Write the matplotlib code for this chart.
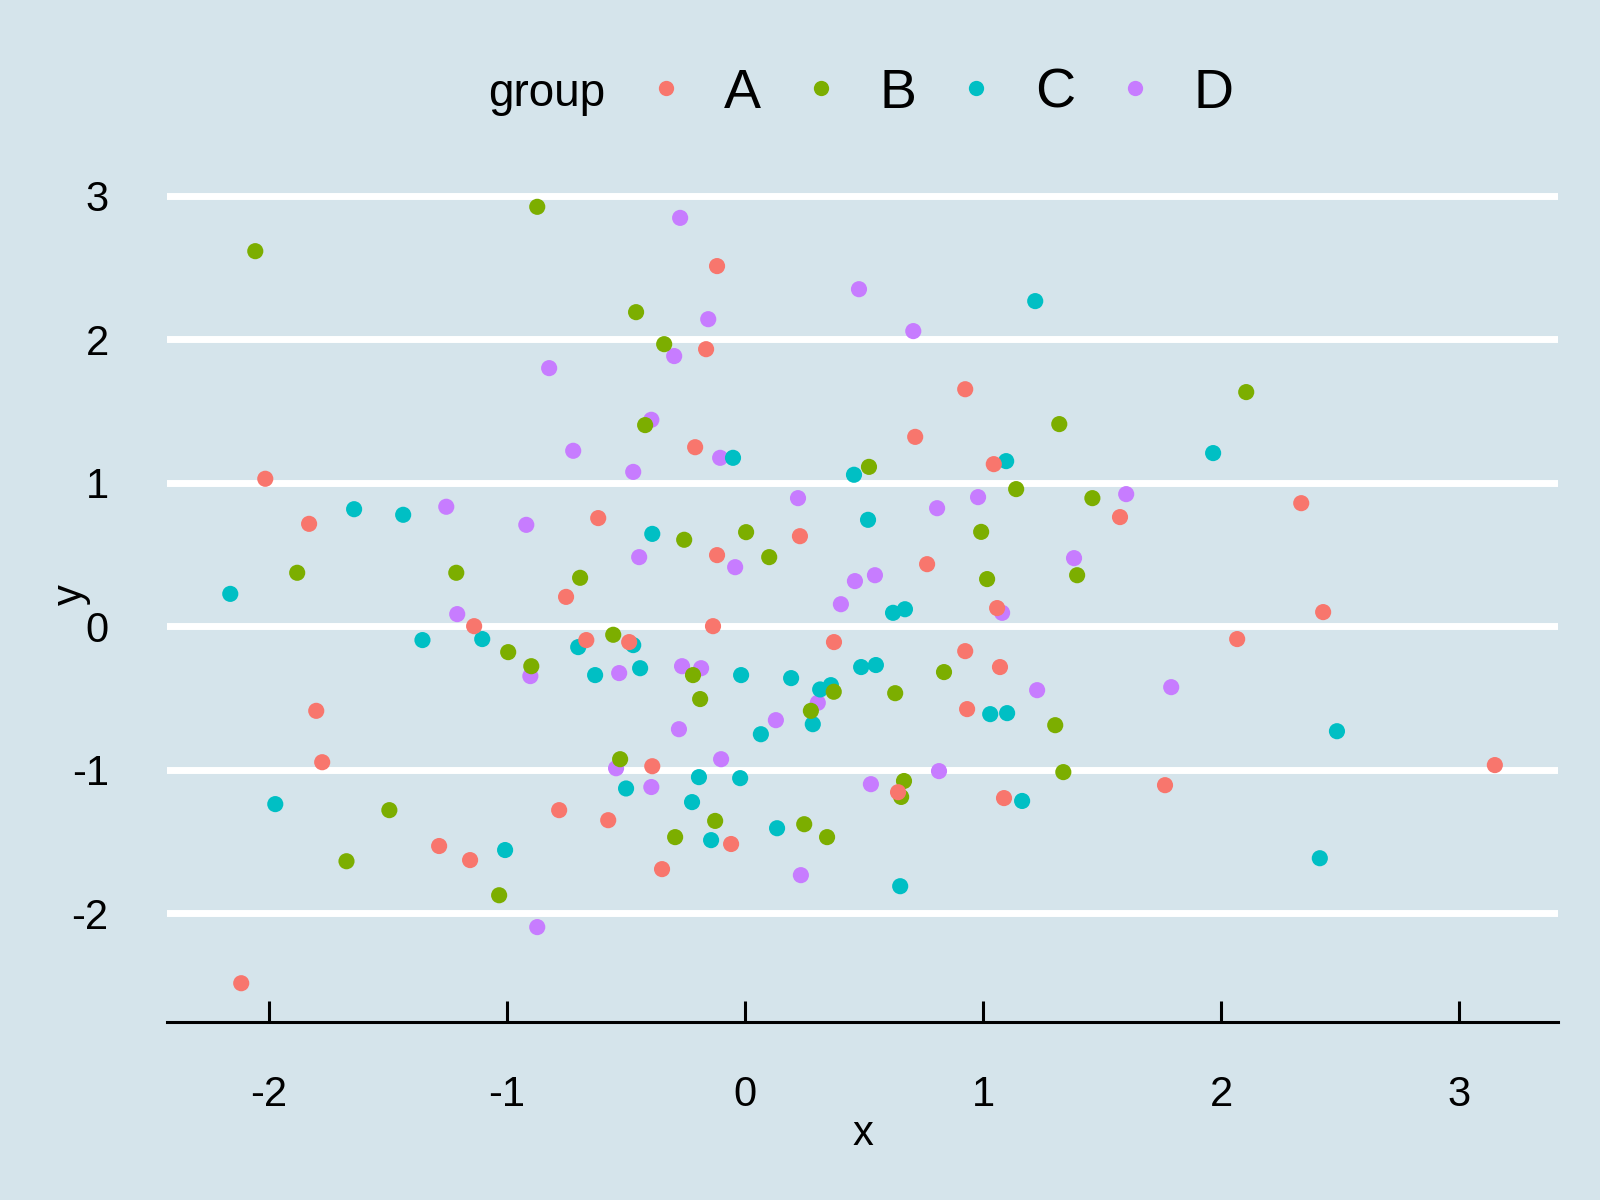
# Scatter of y against x by group, economist-like styling

import numpy as np
import matplotlib
matplotlib.use('Agg')
import matplotlib.pyplot as plt
from matplotlib.lines import Line2D

plt.rcParams['font.family'] = ['Liberation Sans', 'DejaVu Sans']
plt.rcParams['axes.unicode_minus'] = False

groups = ['A', 'B', 'C', 'D']
colors = ['#F8766D', '#7CAE00', '#00BFC4', '#C77CFF']

a_x = [-2.014, -1.830, -0.616, -0.751, -0.117, -0.163, 0.925, 0.715, -0.209, 1.045,
       0.231, -0.117, 0.765, 2.336, 1.575, -1.137, -0.666, -1.800, -1.775, -0.780,
       -0.574, -1.284, -1.154, -2.115, 1.059, -0.134, -0.486, 0.374, 0.925, 1.071,
       0.933, -0.389, 0.643, 1.088, -0.058, -0.348, 2.428, 2.067, 1.764, 3.149]
a_y = [1.029, 0.715, 0.755, 0.206, 2.511, 1.932, 1.653, 1.321, 1.249, 1.131,
       0.629, 0.497, 0.434, 0.859, 0.762, 0.002, -0.095, -0.588, -0.946, -1.280,
       -1.350, -1.530, -1.628, -2.486, 0.128, 0.002, -0.109, -0.109, -0.172, -0.283,
       -0.576, -0.974, -1.155, -1.196, -1.516, -1.691, 0.100, -0.088, -1.106, -0.966]

b_x = [-2.056, -0.872, -1.880, -1.212, -0.692, -0.457, -0.339, -0.419, 1.320, 0.521,
       1.139, -0.255, 0.005, 0.992, 0.102, 1.017, 1.395, 2.105, 1.459, -0.994,
       -0.897, -0.553, -0.524, -1.493, -1.673, -1.032, -0.218, -0.188, 0.836, 0.373,
       0.277, 0.631, 1.303, 0.668, 0.656, 1.337, -0.125, -0.293, 0.249, 0.345]
b_y = [2.615, 2.924, 0.374, 0.374, 0.339, 2.190, 1.967, 1.403, 1.410, 1.112,
       0.957, 0.604, 0.657, 0.659, 0.483, 0.330, 0.357, 1.633, 0.894, -0.179,
       -0.277, -0.058, -0.925, -1.280, -1.636, -1.873, -0.339, -0.506, -0.318, -0.455,
       -0.588, -0.465, -0.688, -1.077, -1.188, -1.015, -1.355, -1.468, -1.378, -1.468]

c_x = [-1.641, -1.435, -2.161, 1.219, -0.050, 0.458, 1.097, -0.389, 0.517, 1.966,
       -1.354, -1.103, -0.700, -0.629, -0.499, -1.972, -1.007, 0.622, 0.672, -0.469,
       -0.440, -0.016, 0.194, 0.488, 0.550, 0.316, 0.361, 0.285, 1.030, 1.101,
       0.067, -0.193, -0.020, -0.222, 1.164, -0.142, 0.135, 0.652, 2.486, 2.414]
c_y = [0.817, 0.778, 0.227, 2.267, 1.175, 1.057, 1.152, 0.645, 0.743, 1.208,
       -0.095, -0.088, -0.144, -0.339, -1.129, -1.238, -1.558, 0.095, 0.120, -0.130,
       -0.291, -0.339, -0.360, -0.283, -0.269, -0.439, -0.409, -0.681, -0.611, -0.604,
       -0.751, -1.050, -1.057, -1.224, -1.216, -1.489, -1.406, -1.810, -0.730, -1.615]

d_x = [-0.822, -0.721, -1.254, -0.918, -0.272, 0.479, -0.154, 0.707, -0.297, -0.393,
       -0.104, -0.469, 0.223, 0.807, 0.979, -0.444, -0.041, 0.462, 0.546, 1.382,
       0.403, 1.601, -1.208, -0.901, -0.528, -0.541, -0.872, 1.080, -0.264, -0.184,
       0.306, 1.227, -0.277, 0.130, -0.100, -0.393, 0.529, 0.815, 0.235, 1.790]
d_y = [1.800, 1.224, 0.834, 0.708, 2.847, 2.350, 2.141, 2.058, 1.884, 1.440,
       1.175, 1.077, 0.894, 0.824, 0.901, 0.483, 0.413, 0.316, 0.357, 0.476,
       0.155, 0.922, 0.086, -0.346, -0.325, -0.988, -2.095, 0.095, -0.277, -0.291,
       -0.532, -0.444, -0.716, -0.653, -0.925, -1.119, -1.099, -1.008, -1.733, -0.423]

xs = [a_x, b_x, c_x, d_x]
ys = [a_y, b_y, c_y, d_y]

bg = '#D5E4EB'
fig = plt.figure(figsize=(16, 12), dpi=100, facecolor=bg)
ax = fig.add_axes([0.1044, 0.1483, 0.8694, 0.7117])
ax.set_facecolor(bg)

# draw D first so A ends up on top
for i in [3, 2, 1, 0]:
    ax.scatter(xs[i], ys[i], s=135, color=colors[i], edgecolors='none', zorder=3)

allx = np.concatenate(xs)
ally = np.concatenate(ys)
dx = (allx.max() - allx.min()) * 0.05
dy = (ally.max() - ally.min()) * 0.05
ax.set_xlim(allx.min() - dx, allx.max() + dx)
ax.set_ylim(ally.min() - dy, ally.max() + dy)

ax.set_xticks([-2, -1, 0, 1, 2, 3])
ax.set_yticks([-2, -1, 0, 1, 2, 3])
ax.grid(axis='y', color='white', linewidth=5)
ax.set_axisbelow(True)

for side in ['top', 'right', 'left']:
    ax.spines[side].set_visible(False)
ax.spines['bottom'].set_linewidth(2.2)
ax.spines['bottom'].set_color('black')

ax.tick_params(axis='x', direction='in', length=15, width=2.2, pad=38,
               labelsize=30, colors='black')
ax.tick_params(axis='y', length=0, pad=42, labelsize=30, colors='black')

ax.set_xlabel('x', fontsize=30)
ax.set_ylabel('y', fontsize=30)
ax.xaxis.set_label_coords(0.5, -0.108)
ax.yaxis.set_label_coords(-0.055, 0.5)

# legend on top: title to the left of the keys
handles = [Line2D([], [], linestyle='none', marker='o', markersize=11,
                  markerfacecolor=c, markeredgecolor='none') for c in colors]
fig.legend(handles, groups, ncol=4, loc='center left',
           bbox_to_anchor=(0.4075, 0.922), frameon=False, fontsize=40,
           handlelength=0.5, handletextpad=0.8, columnspacing=0.83,
           borderpad=0, borderaxespad=0)
fig.text(0.305, 0.922, 'group', fontsize=33, ha='left', va='center')

fig.savefig('out.png', dpi=100, facecolor=bg)
